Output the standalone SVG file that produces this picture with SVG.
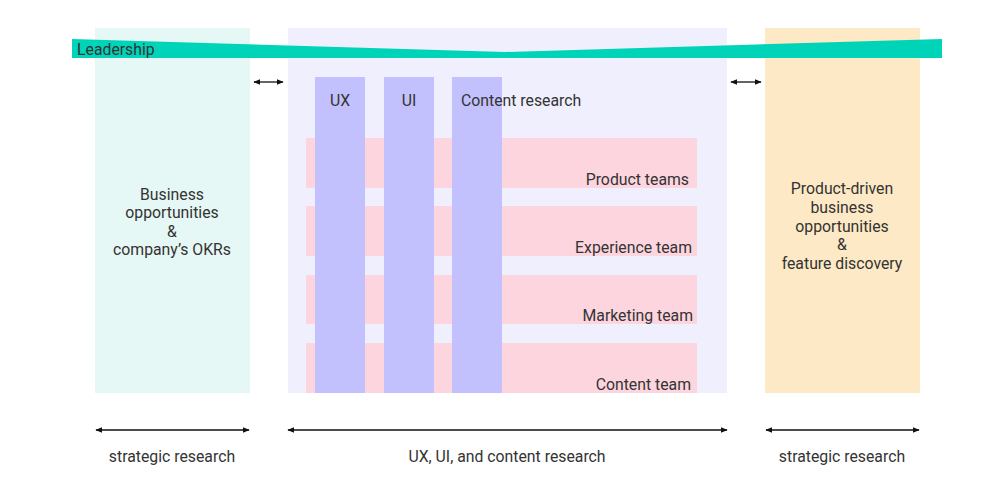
<svg xmlns="http://www.w3.org/2000/svg" width="997" height="493" viewBox="0 0 997 493">
<style>
text{font-family:Roboto,"Liberation Sans",sans-serif;font-size:15.8px;fill:#333}
.c{text-anchor:middle}
.r{text-anchor:end}
.col{fill:#c3c1fd}
.team{fill:#fdd5df}
.ln{stroke:#111;stroke-width:1.3;fill:none;marker-start:url(#a);marker-end:url(#a)}
</style>
<defs>
<marker id="a" viewBox="0 0 10 10" refX="9" refY="5" markerWidth="7" markerHeight="7" orient="auto-start-reverse" markerUnits="userSpaceOnUse"><path d="M0,1 L10,5 L0,9 Z" fill="#111"/></marker>
</defs>
<rect width="997" height="493" fill="#fff"/>
<g id="strategic-left"><rect x="95" y="28" width="155" height="365" fill="#e6f8f5"/>
<text class="c" x="172" y="200">Business</text><text class="c" x="172" y="218">opportunities</text><text class="c" x="172" y="237">&amp;</text><text class="c" x="172" y="255">company’s OKRs</text></g>
<g id="research"><rect x="288" y="28" width="439" height="365" fill="#f0effd"/></g>
<g id="strategic-right"><rect x="765" y="28" width="155" height="365" fill="#fde9c5"/>
<text class="c" x="842" y="194">Product-driven</text><text class="c" x="842" y="213">business</text><text class="c" x="842" y="232">opportunities</text><text class="c" x="842" y="250">&amp;</text><text class="c" x="842" y="269">feature discovery</text></g>
<g id="leadership"><polygon points="72,39 505,52 942,39 942,58 72,58" fill="#00d4b8"/><text x="77" y="55">Leadership</text></g>
<g id="teams">
<rect class="team" x="306" y="138" width="391" height="50"/>
<rect class="team" x="306" y="206" width="391" height="50"/>
<rect class="team" x="306" y="275" width="391" height="49"/>
<rect class="team" x="306" y="343" width="391" height="50"/>
</g>
<g id="ux"><rect class="col" x="315" y="77" width="50" height="316"/><text class="c" x="340" y="106">UX</text></g>
<g id="ui"><rect class="col" x="384" y="77" width="50" height="316"/><text class="c" x="409" y="106">UI</text></g>
<g id="content-research"><rect class="col" x="452" y="77" width="50" height="316"/><text x="461" y="106">Content research</text></g>
<g id="team-labels">
<text class="r" x="689" y="185">Product teams</text>
<text class="r" x="692" y="253">Experience team</text>
<text class="r" x="693" y="321">Marketing team</text>
<text class="r" x="691" y="390">Content team</text>
</g>
<g id="connectors">
<line class="ln" x1="254" y1="82" x2="283" y2="82"/>
<line class="ln" x1="731" y1="82" x2="761" y2="82"/>
<line class="ln" x1="96" y1="430" x2="249" y2="430"/>
<line class="ln" x1="288" y1="430" x2="727" y2="430"/>
<line class="ln" x1="766" y1="430" x2="919" y2="430"/>
</g>
<g id="bottom-labels">
<text class="c" x="172" y="462">strategic research</text>
<text class="c" x="507" y="462">UX, UI, and content research</text>
<text class="c" x="842" y="462">strategic research</text>
</g>
</svg>
